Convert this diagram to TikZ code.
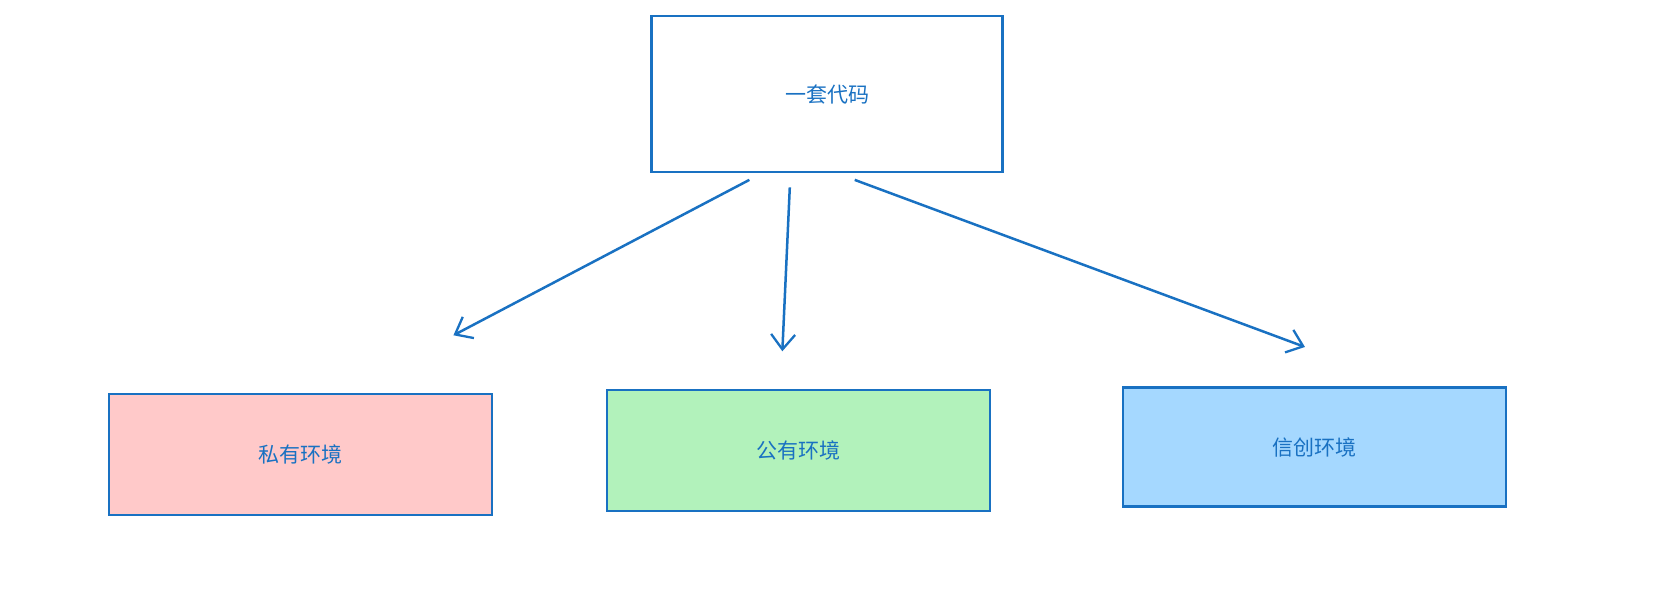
\documentclass[tikz,border=0pt]{standalone}
\usepackage{fontspec}
\setmainfont{Noto Sans CJK SC}
\usetikzlibrary{arrows.meta}
\definecolor{stroke}{HTML}{1971C2}
\definecolor{pinkf}{HTML}{FFC9C9}
\definecolor{greenf}{HTML}{B2F2BB}
\definecolor{bluef}{HTML}{A5D8FF}
\begin{document}
\begin{tikzpicture}[x=1.0644pt,y=-1.0644pt,
  box/.style={draw=stroke,line width=2.3pt,font=\fontsize{21}{24}\selectfont,text=stroke},
  conn/.style={draw=stroke,line width=2.5pt,-{Straight Barb[length=15pt,width=24pt,line width=2.3pt]}}]
\useasboundingbox (0,0) rectangle (1568,556);
\node[box,minimum width=351pt,minimum height=156pt] (top) at (777,88.5) {一套代码};
\node[box,fill=pinkf,minimum width=383pt,minimum height=121pt] (priv) at (282,427) {私有环境};
\node[box,fill=greenf,minimum width=383pt,minimum height=121pt] (pub) at (750,423) {公有环境};
\node[box,fill=bluef,minimum width=383pt,minimum height=119pt] (xc) at (1235,420) {信创环境};
\coordinate (s1) at (704,169); \coordinate (e1) at (426,315);
\coordinate (s2) at (742,176); \coordinate (e2) at (735,330);
\coordinate (s3) at (803,169); \coordinate (e3) at (1226,326);
\draw[conn] (s1) -- (e1);
\draw[conn] (s2) -- (e2);
\draw[conn] (s3) -- (e3);
\end{tikzpicture}
\end{document}
